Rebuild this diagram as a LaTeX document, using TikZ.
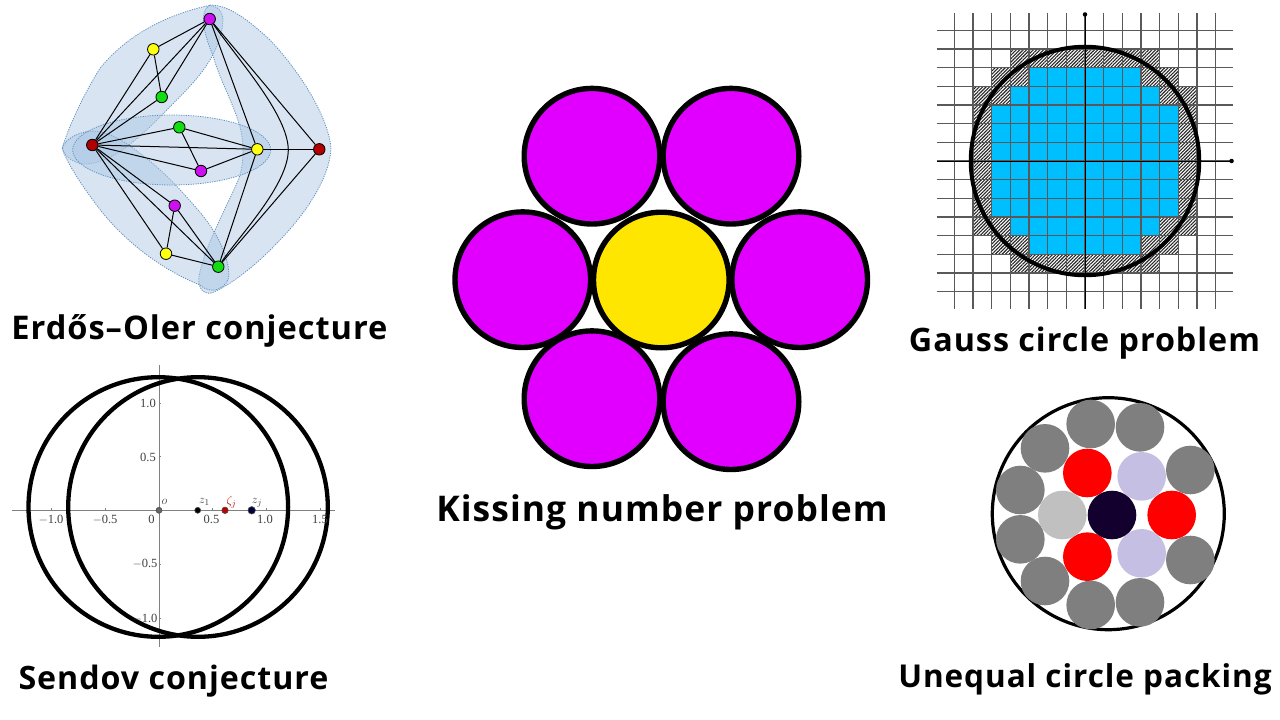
\documentclass[tikz,border=0pt]{standalone}
\usepackage{fontspec}
\setmainfont{Liberation Serif}
\newfontfamily\capfont[LetterSpace=3]{Open Sans}
\usetikzlibrary{patterns.meta}
\definecolor{hyper}{HTML}{A9C5E3}
\definecolor{hyperline}{HTML}{5F93BF}
\definecolor{kpurple}{HTML}{E100FF}
\definecolor{kyellow}{HTML}{FFE600}
\definecolor{gpurple}{HTML}{CC11EE}
\definecolor{gred}{HTML}{B00000}
\definecolor{ggreen}{HTML}{11DD11}
\definecolor{gyellow}{HTML}{FFFF11}
\definecolor{gblue}{HTML}{00BFFF}
\definecolor{pgray}{HTML}{7F7F7F}
\definecolor{plav}{HTML}{C5C0E3}
\definecolor{plight}{HTML}{C0C0C0}
\definecolor{pdark}{HTML}{14002E}
\definecolor{axisgray}{HTML}{808080}
\tikzset{
  x=1pt,y=-1pt,
  captext/.style={font=\capfont\bfseries\fontsize{#1}{36}\selectfont,inner sep=0pt,anchor=center},
  blob/.style={draw=hyperline,dash pattern=on 1.2pt off 1.2pt,line width=.8pt,fill=hyper,fill opacity=.45},
  gv/.style={circle,draw=black,line width=.8pt,minimum size=11.5pt,inner sep=0pt},
  ge/.style={line width=1pt,black},
  kiss/.style={circle,draw=black,line width=5.4pt,minimum size=135.6pt,inner sep=0pt},
  pack/.style={circle,minimum size=48.6pt,inner sep=0pt},
  tick/.style={axisgray,line width=.6pt},
  num/.style={font=\fontsize{12.5}{13}\selectfont,text=black!75,inner sep=0pt},
  zero/.style={circle,draw=black!70,line width=.6pt,inner sep=0pt},
}
\begin{document}
\begin{tikzpicture}
\useasboundingbox (0,0) rectangle (1280,720);
\fill[white] (0,0) rectangle (1280,720);

% ---- Erdos-Oler hypergraph
\begin{scope}[shift={(50,0)},x=.33333pt,y=-.33333pt]
\draw[blob] (37,445) .. controls (45,410) and (90,300) .. (150,205) .. controls (230,105) and (350,45) .. (470,18) .. controls (500,12) and (525,35) .. (518,75) .. controls (505,170) and (440,240) .. (380,300) .. controls (330,350) and (290,395) .. (230,440) .. controls (180,480) and (110,505) .. (75,485) .. controls (58,478) and (42,465) .. (37,445) -- cycle;
\draw[blob] (480,15) .. controls (540,15) and (600,65) .. (660,120) .. controls (750,215) and (835,350) .. (843,445) .. controls (838,540) and (760,650) .. (680,730) .. controls (620,795) and (530,865) .. (480,880) .. controls (450,880) and (440,850) .. (450,815) .. controls (470,730) and (530,620) .. (565,540) .. controls (580,500) and (585,440) .. (570,380) .. controls (550,310) and (510,240) .. (490,170) .. controls (470,120) and (440,40) .. (480,15) -- cycle;
\draw[blob] (37,445) .. controls (45,480) and (100,565) .. (155,635) .. controls (240,740) and (350,815) .. (450,855) .. controls (490,890) and (535,860) .. (537,825) .. controls (535,750) and (480,670) .. (440,625) .. controls (400,580) and (350,520) .. (270,460) .. controls (220,420) and (160,385) .. (110,395) .. controls (80,400) and (42,420) .. (37,445) -- cycle;
\draw[blob] (365,450) ellipse [x radius=297, y radius=105];
\end{scope}

\node[gv,fill=gpurple] (pt) at (209.7,19) {};
\node[gv,fill=gyellow] (yt) at (153.3,49.3) {};
\node[gv,fill=ggreen]  (gt) at (161.7,97) {};
\node[gv,fill=gred]    (rl) at (92.3,145) {};
\node[gv,fill=ggreen]  (gm) at (179.3,127.3) {};
\node[gv,fill=gyellow] (ym) at (257.3,149.3) {};
\node[gv,fill=gpurple] (pm) at (201,171) {};
\node[gv,fill=gred]    (rr) at (319.3,149.3) {};
\node[gv,fill=gpurple] (pl) at (174.7,205.7) {};
\node[gv,fill=gyellow] (yl) at (166,253.7) {};
\node[gv,fill=ggreen]  (gl) at (218.3,266.7) {};
\coordinate (bend) at (288.3,150);
\foreach \a/\b in {rl/yt,rl/pt,rl/gt,rl/gm,rl/ym,rl/pm,rl/pl,rl/gl,rl/yl,pt/yt,pt/gt,pt/ym,pt/rr,yt/gt,gm/ym,gm/pm,pm/ym,ym/rr,ym/gl,pl/yl,pl/gl,yl/gl,rr/gl}
  \draw[ge] (\a) -- (\b);
\draw[ge] (pt) .. controls (240,62) and (288,115) .. (bend) .. controls (288,185) and (240,235) .. (gl);

% ---- Kissing
\node[kiss,fill=kpurple] (k1) at (592,156.2) {};
\node[kiss,fill=kpurple] (k2) at (731,156.2) {};
\node[kiss,fill=kpurple] (k3) at (522.8,279.7) {};
\node[kiss,fill=kpurple] (k4) at (799.7,279.7) {};
\node[kiss,fill=kpurple] (k5) at (592,398.7) {};
\node[kiss,fill=kpurple] (k6) at (731,401.7) {};
\node[kiss,fill=kyellow] (k0) at (661.3,280) {};

% ---- Gauss
\begin{scope}[shift={(1085,161)},x=18.67pt,y=-18.67pt]
  \path[pattern={Lines[angle=45,distance=2.4pt,line width=1.1pt]},pattern color=black!85] (-4,6) -- (4,6) -- (4,5) -- (5,5) -- (5,4) -- (6,4) -- (6,-4) -- (5,-4) -- (5,-5) -- (4,-5) -- (4,-6) -- (-4,-6) -- (-4,-5) -- (-5,-5) -- (-5,-4) -- (-6,-4) -- (-6,4) -- (-5,4) -- (-5,5) -- (-4,5) -- cycle;
  \fill[gblue] (-3,5) -- (3,5) -- (3,4) -- (4,4) -- (4,3) -- (5,3) -- (5,-3) -- (4,-3) -- (4,-4) -- (3,-4) -- (3,-5) -- (-3,-5) -- (-3,-4) -- (-4,-4) -- (-4,-3) -- (-5,-3) -- (-5,3) -- (-4,3) -- (-4,4) -- (-3,4) -- cycle;
  \foreach \i in {-7,...,7} {
    \draw[black!65,line width=1.1pt] (\i,-7.93) -- (\i,7.93);
    \draw[black!65,line width=1.1pt] (-7.93,\i) -- (7.93,\i);
  }
  \draw[black,line width=.9pt] (0,-7.93) -- (0,7.93);
  \draw[black,line width=.9pt] (-7.93,0) -- (7.93,0);
  \fill[black] (0,-7.85) circle [radius=.12];
  \fill[black] (7.85,0) circle [radius=.12];
  \draw[black,line width=4pt] (0,0) circle [radius=6.12];
\end{scope}

% ---- Sendov
\draw[axisgray,line width=.9pt] (11.7,510.3) -- (335,510.3);
\draw[axisgray,line width=.9pt] (159,365) -- (159,646.7);
\foreach \x in {51,105,212.3,266,320} \draw[tick] (\x,508.3) -- (\x,510.3);
\foreach \y in {403.3,456.7,564,618.3} \draw[tick] (159,\y) -- (161,\y);
\draw[black,line width=4.3pt] (158.3,507) circle [radius=129.8];
\draw[black,line width=4.3pt] (198,507) circle [radius=129.8];
\node[num] (y1) at (148,403.5) {1.0};
\node[num] (y2) at (148,457) {0.5};
\node[num] (y3) at (145,564) {$-$0.5};
\node[num] (y4) at (145,618.5) {$-$1.0};
\node[num] (x1) at (51,519.5) {$-$1.0};
\node[num] (x2) at (105,519.5) {$-$0.5};
\node[num] (x3) at (151.5,519.5) {0};
\node[num] (x4) at (211.5,519.5) {0.5};
\node[num] (x5) at (265,519.5) {1.0};
\node[num] (x6) at (320,519.5) {1.5};
\node[zero,fill=black!60,minimum size=6pt] (po) at (159,510.3) {};
\node[zero,fill=black,minimum size=6pt] (pz) at (197.7,510.3) {};
\node[zero,fill=red!75!black,minimum size=6.5pt] (pc) at (225,510.3) {};
\node[zero,fill=blue!25!black,minimum size=7.5pt] (pj) at (251.7,510.3) {};
\node[num] (lo) at (164.5,501.5) {$o$};
\node[num] (lz) at (204.5,502) {$z_1$};
\node[num,text=red!75!black] (lc) at (231.5,502) {$\zeta_j$};
\node[num] (lj) at (257,503) {$z_j$};

% ---- Packing
\draw[black,line width=3.2pt] (1108.3,513.7) circle [radius=116];
\begin{scope}[shift={(985,390)}]
\foreach \n/\x/\y in {a/317/102,b/465/112,c/180/175,d/616/240,e/106/300,f/106/448,g/180/573,h/616/510,i/317/645,j/465/637}
  \node[pack,fill=pgray] (p\n) at (\x/3,\y/3) {};
\foreach \n/\x/\y in {k/307/249,l/560/375,m/307/500}
  \node[pack,fill=red] (p\n) at (\x/3,\y/3) {};
\foreach \n/\x/\y in {n/470/259,o/470/490}
  \node[pack,fill=plav] (p\n) at (\x/3,\y/3) {};
\node[pack,fill=plight] (pp) at (232/3,375/3) {};
\node[pack,fill=pdark] (pq) at (381/3,375/3) {};
\end{scope}

% ---- Captions
\node[captext=32.6] (c1) at (199.5,331) {Erdős–Oler conjecture};
\node[captext=32.3] (c2) at (1084.5,343) {Gauss circle problem};
\node[captext=32.2] (c3) at (173.5,681) {Sendov conjecture};
\node[captext=35.4] (c4) at (662,512) {Kissing number problem};
\node[captext=31.5] (c5) at (1085,679) {Unequal circle packing};
\end{tikzpicture}
\end{document}
